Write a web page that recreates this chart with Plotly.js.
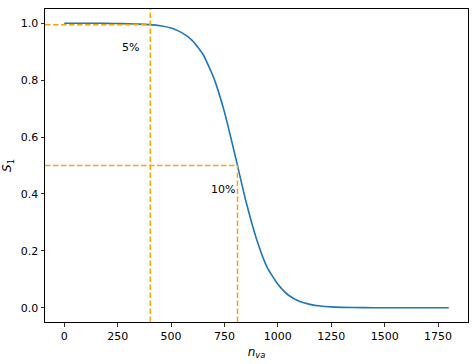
<!DOCTYPE html>
<html>
<head>
<meta charset="utf-8">
<script src="https://cdn.plot.ly/plotly-3.0.1.min.js"></script>
<style>html,body{margin:0;padding:0;background:#fff;}#chart{width:474px;height:364px;}</style>
</head>
<body>
<div id="chart"></div>
<script>
// Values
const nVa = [0, 50, 100, 150, 200, 250, 300, 350, 400, 450, 500, 550, 600, 650, 700, 750, 800, 850, 900, 950, 1000, 1050, 1100, 1150, 1200, 1250, 1300, 1400, 1500, 1600, 1700, 1800];
const s1 = [1.0, 1.0, 1.0, 1.0, 0.9995, 0.999, 0.998, 0.997, 0.995, 0.991, 0.983, 0.967, 0.939, 0.89, 0.808, 0.688, 0.535, 0.376, 0.242, 0.142, 0.083, 0.044, 0.023, 0.012, 0.006, 0.003, 0.0015, 0.0004, 0.0001, 0.0, 0.0, 0.0];
const markX = [403, 811];
const markY = [0.995, 0.5];
const markLabels = ["5%", "10%"];
const labelX = [310, 742];
const labelY = [0.916, 0.414];
const xTicks = [0, 250, 500, 750, 1000, 1250, 1500, 1750];
const yTicks = [0.0, 0.2, 0.4, 0.6, 0.8, 1.0];
const xRange = [-90, 1890];
const yRange = [-0.05, 1.05];

const orange = '#FFA500';
const dashLine = {color:orange, width:1.5, dash:'5.5px,2.5px'};
const shapes = [
  // 5% : full-height vertical, horizontal from left edge
  {type:'line', xref:'x', yref:'paper', x0:markX[0], x1:markX[0], y0:0, y1:1, line:dashLine},
  {type:'line', xref:'x', yref:'y', x0:xRange[0], x1:markX[0], y0:markY[0], y1:markY[0], line:dashLine},
  // 10% : vertical from bottom to 0.5, horizontal from left edge
  {type:'line', xref:'x', yref:'y', x0:markX[1], x1:markX[1], y0:yRange[0], y1:markY[1], line:dashLine},
  {type:'line', xref:'x', yref:'y', x0:xRange[0], x1:markX[1], y0:markY[1], y1:markY[1], line:dashLine}
];

const annotations = markLabels.map((t, i) => ({
  x: labelX[i], y: labelY[i], xref:'x', yref:'y', text:t, showarrow:false,
  font:{family:'DejaVu Sans', size:11, color:'#000'}
}));

const trace = {
  x: nVa, y: s1, type:'scatter', mode:'lines',
  line:{color:'#1f77b4', width:1.6, shape:'spline', smoothing:0.5},
  hoverinfo:'none'
};

const axisCommon = {
  showgrid:false, zeroline:false, showline:true, linecolor:'#000', linewidth:1,
  mirror:true, ticks:'outside', ticklen:3.5, tickwidth:0.8, tickcolor:'#000',
  tickfont:{family:'DejaVu Sans', size:11, color:'#000'}
};

const layout = {
  width:474, height:364,
  margin:{l:45, r:6, t:9, b:42},
  paper_bgcolor:'#fff', plot_bgcolor:'#fff',
  showlegend:false,
  xaxis: Object.assign({}, axisCommon, {
    range:xRange, tickvals:xTicks, ticktext:xTicks.map(String),
    title:{text:'<i>n</i><sub><i>va</i></sub>', font:{family:'DejaVu Sans', size:12, color:'#000'}, standoff:5}
  }),
  yaxis: Object.assign({}, axisCommon, {
    range:yRange, tickvals:yTicks, ticktext:yTicks.map(v => v.toFixed(1)),
    title:{text:'<i>S</i><sub>1</sub>', font:{family:'DejaVu Sans', size:12, color:'#000'}, standoff:6}
  }),
  shapes: shapes,
  annotations: annotations
};

Plotly.newPlot('chart', [trace], layout, {staticPlot:true, displayModeBar:false});
</script>
</body>
</html>
